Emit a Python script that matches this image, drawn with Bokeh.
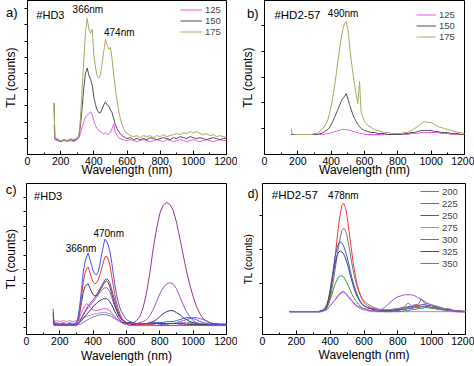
from bokeh.plotting import figure
from bokeh.layouts import column, row
from bokeh.models import Range1d, FixedTicker, Legend, LegendItem, Label, CustomJSTickFormatter
from bokeh.embed import file_html
from bokeh.resources import INLINE

# ---------------- data (TL intensity, arbitrary units) ----------------
WAVELENGTH = [160, 165, 180, 200, 220, 240, 260, 280, 300] + list(range(310, 610, 10)) + list(range(620, 1220, 20))

A_LABELS = ["125", "150", "175"]
A_125 = [30, 15, 14, 13, 14, 13, 14, 13, 15,
         17, 22, 28, 33, 38, 40, 41, 43, 40, 34, 29, 26, 24, 23, 22, 21, 22, 20, 21, 22, 26, 31, 22, 19, 17, 16, 15, 15, 14, 14,
         15, 14, 13, 14, 15, 14, 13, 14, 15, 14, 13, 15, 14, 13, 14, 15, 14, 13, 14, 15, 14, 13, 14, 15, 14, 13, 14, 15, 14, 14]
A_150 = [52, 16, 15, 13, 15, 14, 15, 14, 16,
         18, 30, 48, 68, 82, 87, 80, 76, 70, 58, 50, 45, 42, 42, 46, 50, 53, 50, 49, 45, 42, 36, 30, 26, 23, 21, 19, 18, 17, 16,
         17, 15, 16, 15, 16, 15, 17, 16, 15, 16, 17, 16, 15, 17, 16, 18, 17, 16, 18, 17, 16, 17, 16, 15, 16, 17, 16, 15, 16, 16]
A_175 = [52, 17, 16, 14, 15, 14, 16, 15, 17,
         19, 38, 68, 96, 124, 137, 126, 122, 126, 100, 88, 79, 77, 80, 92, 104, 116, 110, 106, 108, 96, 80, 66, 54, 44, 36, 30, 26, 23, 21,
         19, 18, 19, 17, 19, 18, 19, 17, 19, 18, 20, 18, 19, 20, 21, 20, 22, 21, 23, 22, 23, 21, 20, 21, 19, 20, 18, 19, 18, 17]

B_LABELS = ["125", "150", "175"]
B_125 = [20, 20, 20, 20, 20, 20, 20, 20, 20,
         20, 20, 20, 20, 20, 20, 21, 21, 21, 22, 22, 23, 23, 24, 24, 25, 25, 25, 25, 25, 24, 24, 23, 23, 22, 22, 21, 21, 21, 20,
         20, 20, 20, 20, 20, 20, 20, 20, 20, 20, 20, 20, 20, 21, 21, 21, 22, 22, 22, 22, 22, 22, 21, 21, 21, 20, 20, 20, 20, 20]
B_150 = [20, 20, 20, 20, 20, 20, 20, 20, 20,
         20, 20, 21, 21, 22, 23, 24, 25, 27, 30, 33, 37, 41, 45, 49, 53, 56, 58, 61, 56, 50, 45, 40, 36, 33, 30, 28, 26, 25, 24,
         23, 22, 22, 21, 21, 21, 20, 20, 20, 20, 20, 21, 21, 22, 22, 23, 24, 24, 24, 24, 23, 23, 22, 22, 22, 21, 21, 21, 20, 20]
B_175 = [26, 21, 20, 20, 20, 20, 20, 20, 21,
         21, 22, 23, 24, 26, 28, 31, 35, 41, 48, 57, 68, 80, 93, 105, 116, 125, 131, 133, 126, 110, 95, 82, 70, 60, 51, 73, 42, 37, 33,
         29, 27, 25, 24, 23, 22, 22, 21, 21, 21, 21, 22, 22, 24, 26, 28, 31, 33, 32, 32, 30, 28, 27, 26, 25, 24, 23, 22, 22, 21]

C_BLUE = [22, 10, 10, 9, 10, 9, 10, 10, 11,
          18, 30, 45, 62, 72, 78, 82, 76, 70, 64, 61, 60, 63, 70, 80, 88, 96, 94, 90, 84, 74, 62, 50, 40, 33, 27, 23, 20, 17, 15,
          13, 12, 11, 11, 11, 11, 11, 12, 12, 12, 12, 13, 13, 13, 14, 15, 16, 17, 17, 16, 15, 13, 12, 11, 10, 10, 10, 10, 10, 10]
C_RED = [26, 10, 10, 10, 9, 10, 10, 9, 10,
         16, 25, 38, 52, 61, 66, 68, 63, 57, 53, 51, 52, 55, 60, 66, 72, 78, 79, 76, 70, 60, 50, 40, 32, 26, 21, 17, 15, 13, 12,
         11, 11, 10, 10, 10, 10, 10, 10, 9, 9, 9, 9, 9, 9, 9, 9, 9, 9, 9, 9, 9, 9, 9, 9, 9, 9, 9, 9, 9, 9]
C_BLACK = [20, 11, 11, 10, 11, 10, 11, 10, 11,
           15, 22, 32, 42, 48, 50, 51, 47, 43, 40, 39, 39, 41, 44, 47, 50, 53, 54, 52, 48, 42, 36, 30, 25, 21, 18, 16, 14, 13, 12,
           12, 11, 11, 11, 11, 11, 11, 11, 11, 11, 11, 11, 11, 11, 11, 11, 11, 10, 10, 10, 10, 10, 10, 10, 10, 10, 10, 10, 10, 10]
C_PLUM = [14, 10, 10, 10, 10, 10, 10, 10, 10,
          11, 14, 17, 20, 23, 26, 29, 31, 33, 35, 37, 40, 43, 46, 49, 52, 55, 56, 55, 52, 46, 40, 34, 28, 23, 19, 16, 14, 13, 12,
          12, 12, 14, 18, 27, 42, 62, 86, 106, 122, 130, 133, 131, 125, 113, 97, 80, 64, 50, 38, 28, 21, 16, 13, 12, 11, 11, 10, 10, 10]
C_PURPLE = [12, 10, 10, 10, 10, 10, 10, 10, 10,
            11, 13, 16, 19, 22, 25, 27, 29, 31, 33, 35, 37, 40, 42, 44, 46, 47, 47, 46, 43, 38, 33, 28, 24, 20, 17, 15, 14, 13, 12,
            12, 11, 11, 12, 13, 15, 19, 25, 33, 41, 47, 51, 52, 51, 46, 38, 30, 23, 18, 14, 12, 11, 10, 10, 10, 10, 10, 10, 10, 10]
C_NAVY = [12, 10, 10, 10, 10, 10, 10, 10, 10,
          11, 12, 14, 16, 18, 20, 22, 24, 26, 28, 30, 31, 33, 34, 35, 36, 36, 36, 35, 33, 30, 27, 23, 20, 17, 15, 13, 12, 12, 11,
          11, 10, 10, 10, 10, 11, 12, 13, 15, 18, 21, 23, 24, 24, 22, 20, 17, 15, 13, 12, 11, 10, 10, 10, 10, 10, 10, 10, 10, 10]
C_MAGENTA = [18, 11, 12, 11, 12, 11, 12, 11, 12,
             14, 18, 22, 26, 29, 31, 30, 28, 26, 25, 24, 24, 24, 25, 25, 26, 26, 26, 25, 24, 22, 20, 18, 16, 14, 13, 12, 11, 11, 10,
             10, 10, 9, 9, 9, 9, 9, 9, 9, 9, 9, 9, 9, 9, 9, 10, 10, 11, 11, 11, 10, 10, 9, 9, 9, 9, 9, 9, 9, 9]
C_GRAY = [16, 13, 14, 13, 14, 13, 14, 13, 14,
          14, 15, 16, 17, 18, 18, 19, 19, 20, 20, 21, 21, 21, 22, 22, 22, 22, 22, 21, 21, 20, 19, 17, 16, 15, 14, 13, 12, 12, 11,
          11, 11, 11, 11, 11, 11, 11, 11, 11, 11, 11, 11, 11, 11, 11, 12, 12, 12, 12, 12, 11, 11, 11, 11, 11, 11, 11, 11, 11, 11]
C_VIOLET = [10, 9, 9, 9, 9, 9, 9, 9, 9,
            10, 10, 11, 12, 13, 14, 15, 16, 17, 18, 18, 19, 19, 20, 20, 20, 20, 20, 19, 19, 18, 17, 16, 15, 14, 13, 12, 11, 10, 10,
            9, 9, 9, 9, 9, 9, 9, 9, 9, 10, 10, 10, 11, 11, 12, 13, 14, 15, 16, 17, 17, 16, 15, 14, 12, 11, 10, 10, 9, 9]

D_LABELS = ["200", "225", "250", "275", "300", "325", "350"]
D_200 = [24, 23, 23, 23, 23, 23, 23, 23, 23,
         23, 23, 23, 23, 24, 24, 25, 27, 31, 37, 45, 55, 66, 78, 89, 98, 105, 107, 105, 99, 90, 80, 70, 61, 54, 48, 43, 39, 36, 34,
         31, 29, 27, 26, 25, 25, 25, 25, 26, 26, 27, 28, 32, 29, 30, 30, 36, 31, 31, 30, 29, 28, 27, 26, 26, 25, 24, 24, 24, 23]
D_225 = [23, 23, 23, 23, 23, 23, 23, 23, 23,
         23, 23, 23, 23, 24, 24, 25, 27, 32, 40, 51, 64, 79, 95, 110, 122, 130, 132, 128, 119, 106, 93, 80, 68, 58, 50, 44, 39, 35, 32,
         29, 27, 26, 25, 24, 24, 24, 24, 24, 25, 25, 26, 27, 27, 28, 28, 28, 28, 28, 27, 27, 26, 26, 25, 25, 24, 24, 24, 23, 23]
D_250 = [23, 23, 23, 23, 23, 23, 23, 23, 23,
         23, 23, 23, 24, 24, 25, 27, 30, 36, 45, 56, 68, 79, 87, 92, 93, 92, 89, 84, 78, 71, 63, 56, 50, 45, 40, 36, 33, 31, 29,
         27, 26, 25, 24, 24, 23, 23, 23, 24, 24, 25, 25, 26, 26, 27, 27, 28, 28, 28, 27, 27, 26, 25, 25, 24, 24, 23, 23, 23, 23]
D_275 = [23, 23, 23, 23, 23, 23, 23, 23, 23,
         23, 23, 23, 23, 23, 24, 24, 25, 27, 29, 31, 33, 35, 37, 39, 41, 42, 43, 41, 39, 37, 35, 33, 31, 29, 28, 27, 26, 25, 25,
         24, 23, 23, 23, 23, 23, 23, 23, 23, 23, 23, 23, 23, 23, 23, 23, 23, 23, 23, 23, 23, 23, 23, 23, 23, 23, 23, 23, 23, 23]
D_300 = [23, 23, 23, 23, 23, 23, 23, 23, 23,
         23, 23, 23, 23, 24, 24, 25, 27, 30, 35, 40, 46, 51, 55, 58, 59, 59, 58, 55, 52, 48, 44, 40, 37, 34, 32, 30, 28, 27, 26,
         25, 24, 24, 23, 23, 23, 23, 23, 23, 23, 23, 24, 24, 25, 25, 26, 26, 27, 27, 26, 26, 25, 25, 24, 24, 24, 23, 23, 23, 23]
D_325 = [23, 23, 23, 23, 23, 23, 23, 23, 23,
         23, 23, 23, 23, 24, 25, 26, 29, 35, 43, 53, 63, 72, 79, 83, 84, 83, 81, 77, 72, 66, 59, 53, 47, 42, 38, 35, 32, 30, 29,
         27, 26, 25, 24, 24, 24, 24, 24, 25, 25, 26, 27, 28, 28, 29, 29, 30, 30, 29, 29, 28, 27, 26, 25, 25, 24, 24, 23, 23, 23]
D_350 = [23, 23, 23, 23, 23, 23, 23, 23, 23,
         23, 23, 23, 23, 23, 24, 24, 25, 27, 29, 31, 33, 35, 38, 40, 42, 43, 43, 42, 40, 38, 36, 34, 32, 30, 29, 28, 27, 26, 26,
         25, 24, 24, 24, 25, 27, 30, 33, 36, 38, 39, 40, 40, 40, 39, 37, 35, 33, 31, 29, 28, 27, 26, 25, 24, 24, 24, 23, 23, 23]

X_TICKS = [0, 200, 400, 600, 800, 1000, 1200]
X_MINOR = [100, 300, 500, 700, 900, 1100]

FONT = "Liberation Sans"


def panel(w, h, ml, mr, mt, mb, ytick_step, ytick_start, xl_standoff,
          tag, tag_y, tag_size, tag_standoff, yl_size, yl_standoff):
    frame_h = h - mt - mb
    p = figure(width=w, height=h, x_range=Range1d(0, 1200), y_range=Range1d(0, frame_h),
               output_backend="svg", toolbar_location=None,
               min_border_left=ml, min_border_right=mr, min_border_top=mt, min_border_bottom=mb,
               background_fill_color="white", border_fill_color="white")
    p.xgrid.visible = False
    p.ygrid.visible = False
    p.outline_line_color = "black"
    p.outline_line_width = 1

    xa = p.xaxis[0]
    xa.ticker = FixedTicker(ticks=X_TICKS, minor_ticks=X_MINOR)
    xa.axis_label = "Wavelength (nm)"
    xa.axis_label_text_font = FONT
    xa.axis_label_text_font_size = "12px"
    xa.axis_label_text_font_style = "normal"
    xa.axis_label_text_color = "black"
    xa.axis_label_standoff = xl_standoff
    xa.major_label_text_font = FONT
    xa.major_label_text_font_size = "10.5px"
    xa.major_label_text_color = "black"
    xa.major_label_standoff = 2
    xa.major_tick_in = 4
    xa.major_tick_out = 0
    xa.minor_tick_in = 2
    xa.minor_tick_out = 0
    xa.axis_line_color = "black"
    xa.major_tick_line_color = "black"
    xa.minor_tick_line_color = "black"

    marks = []
    t = ytick_start
    while t < frame_h:
        marks.append(t)
        t += ytick_step
    ya = p.yaxis[0]
    # the single major tick carries the panel tag, the minor ticks are the tick marks
    ya.ticker = FixedTicker(ticks=[tag_y], minor_ticks=marks)
    ya.formatter = CustomJSTickFormatter(code="return '%s';" % tag)
    ya.major_label_text_font = FONT
    ya.major_label_text_font_size = tag_size
    ya.major_label_text_color = "black"
    ya.major_label_standoff = tag_standoff
    ya.major_tick_line_color = None
    ya.major_tick_in = 0
    ya.major_tick_out = 3
    ya.minor_tick_in = 0
    ya.minor_tick_out = 3
    ya.minor_tick_line_color = "black"
    ya.axis_label = "TL (counts)"
    ya.axis_label_text_font = FONT
    ya.axis_label_text_font_size = yl_size
    ya.axis_label_text_font_style = "normal"
    ya.axis_label_text_color = "black"
    ya.axis_label_standoff = yl_standoff
    ya.axis_line_color = "black"
    return p


def add_text(p, ref_frame, rx, ry, text, size):
    left, width, bottom = ref_frame
    p.add_layout(Label(x=(rx - left) * 1200 / width, y=bottom - ry, text=text,
                       text_font=FONT, text_font_size=size, text_color="black",
                       text_baseline="middle", text_align="left"))


def add_legend(p, items, x, y, glyph_w, row_h):
    leg = Legend(items=items, location=(x, y), orientation="vertical",
                 padding=0, margin=0, spacing=0, glyph_width=glyph_w, glyph_height=row_h,
                 label_height=row_h, label_standoff=3, label_text_font=FONT,
                 label_text_font_size="9.5px", label_text_baseline="middle",
                 border_line_alpha=0, background_fill_alpha=0)
    p.add_layout(leg)


# ---------------- panel a ----------------
pa = panel(237, 181, 23, 11, 0, 26, 16.3, 16.3, -5, "a)", 143, "13px", 7, "12px", -15)
A_COLORS = ["#ee55ee", "#505050", "#a8a860"]
ra = []
for lab, ys, col in zip(A_LABELS, [A_125, A_150, A_175], A_COLORS):
    ra.append(pa.line(WAVELENGTH, ys, line_color=col, line_width=1))
add_legend(pa, [LegendItem(label=l, renderers=[r]) for l, r in zip(A_LABELS, ra)], 153, 117, 22, 11)
RA = (22, 203, 155)
add_text(pa, RA, 31, 15, "#HD3", "11px")
add_text(pa, RA, 68, 9, "366nm", "10px")
add_text(pa, RA, 100, 32, "474nm", "10px")

# ---------------- panel b ----------------
pb = panel(237, 181, 25, 10, 0, 27, 25.8, 25.8, -5, "b)", 141, "13px", 3, "12px", -11)
rb = []
for lab, ys, col in zip(B_LABELS, [B_125, B_150, B_175], A_COLORS):
    rb.append(pb.line(WAVELENGTH, ys, line_color=col, line_width=1))
add_legend(pb, [LegendItem(label=l, renderers=[r]) for l, r in zip(B_LABELS, rb)], 152, 112, 20, 11)
RB = (262, 202, 154)
add_text(pb, RB, 272, 14, "#HD2-57", "11.5px")
add_text(pb, RB, 326, 13, "490nm", "10px")

# ---------------- panel c ----------------
pc = panel(237, 185, 23, 11, 1, 32, 14.5, 7.5, 1, "c)", 146, "13px", 7, "12px", -15)
C_SERIES = [(C_GRAY, "#9a9a9a"), (C_VIOLET, "#6a6ad8"), (C_MAGENTA, "#ee44ee"), (C_NAVY, "#303080"),
            (C_PURPLE, "#9a55dd"), (C_PLUM, "#8a3d8a"), (C_BLACK, "#444444"), (C_RED, "#ee3a3a"),
            (C_BLUE, "#4455ee")]
for ys, col in C_SERIES:
    pc.line(WAVELENGTH, ys, line_color=col, line_width=1)
RC = (22.3, 202.4, 334)
add_text(pc, RC, 30, 195, "#HD3", "11px")
add_text(pc, RC, 62, 247, "366nm", "10px")
add_text(pc, RC, 90, 232, "470nm", "10px")

# ---------------- panel d ----------------
pd_ = panel(237, 185, 25, 9, 2, 31, 34.4, 16.7, 0, "d)", 141, "12px", 1, "10px", -9)
D_COLORS = ["#777777", "#ee3a3a", "#4455cc", "#dd66dd", "#33a033", "#444488", "#9a55dd"]
rd = []
for lab, ys, col in zip(D_LABELS, [D_200, D_225, D_250, D_275, D_300, D_325, D_350], D_COLORS):
    rd.append(pd_.line(WAVELENGTH, ys, line_color=col, line_width=1))
add_legend(pd_, [LegendItem(label=l, renderers=[r]) for l, r in zip(D_LABELS, rd)], 158, 65, 19, 12)
RD = (262.7, 202, 335)
add_text(pd_, RD, 272, 195, "#HD2-57", "11.5px")
add_text(pd_, RD, 328, 195, "478nm", "10px")

layout = column(row(pa, pb), row(pc, pd_))
open("out.html", "w").write(file_html(layout, INLINE))
